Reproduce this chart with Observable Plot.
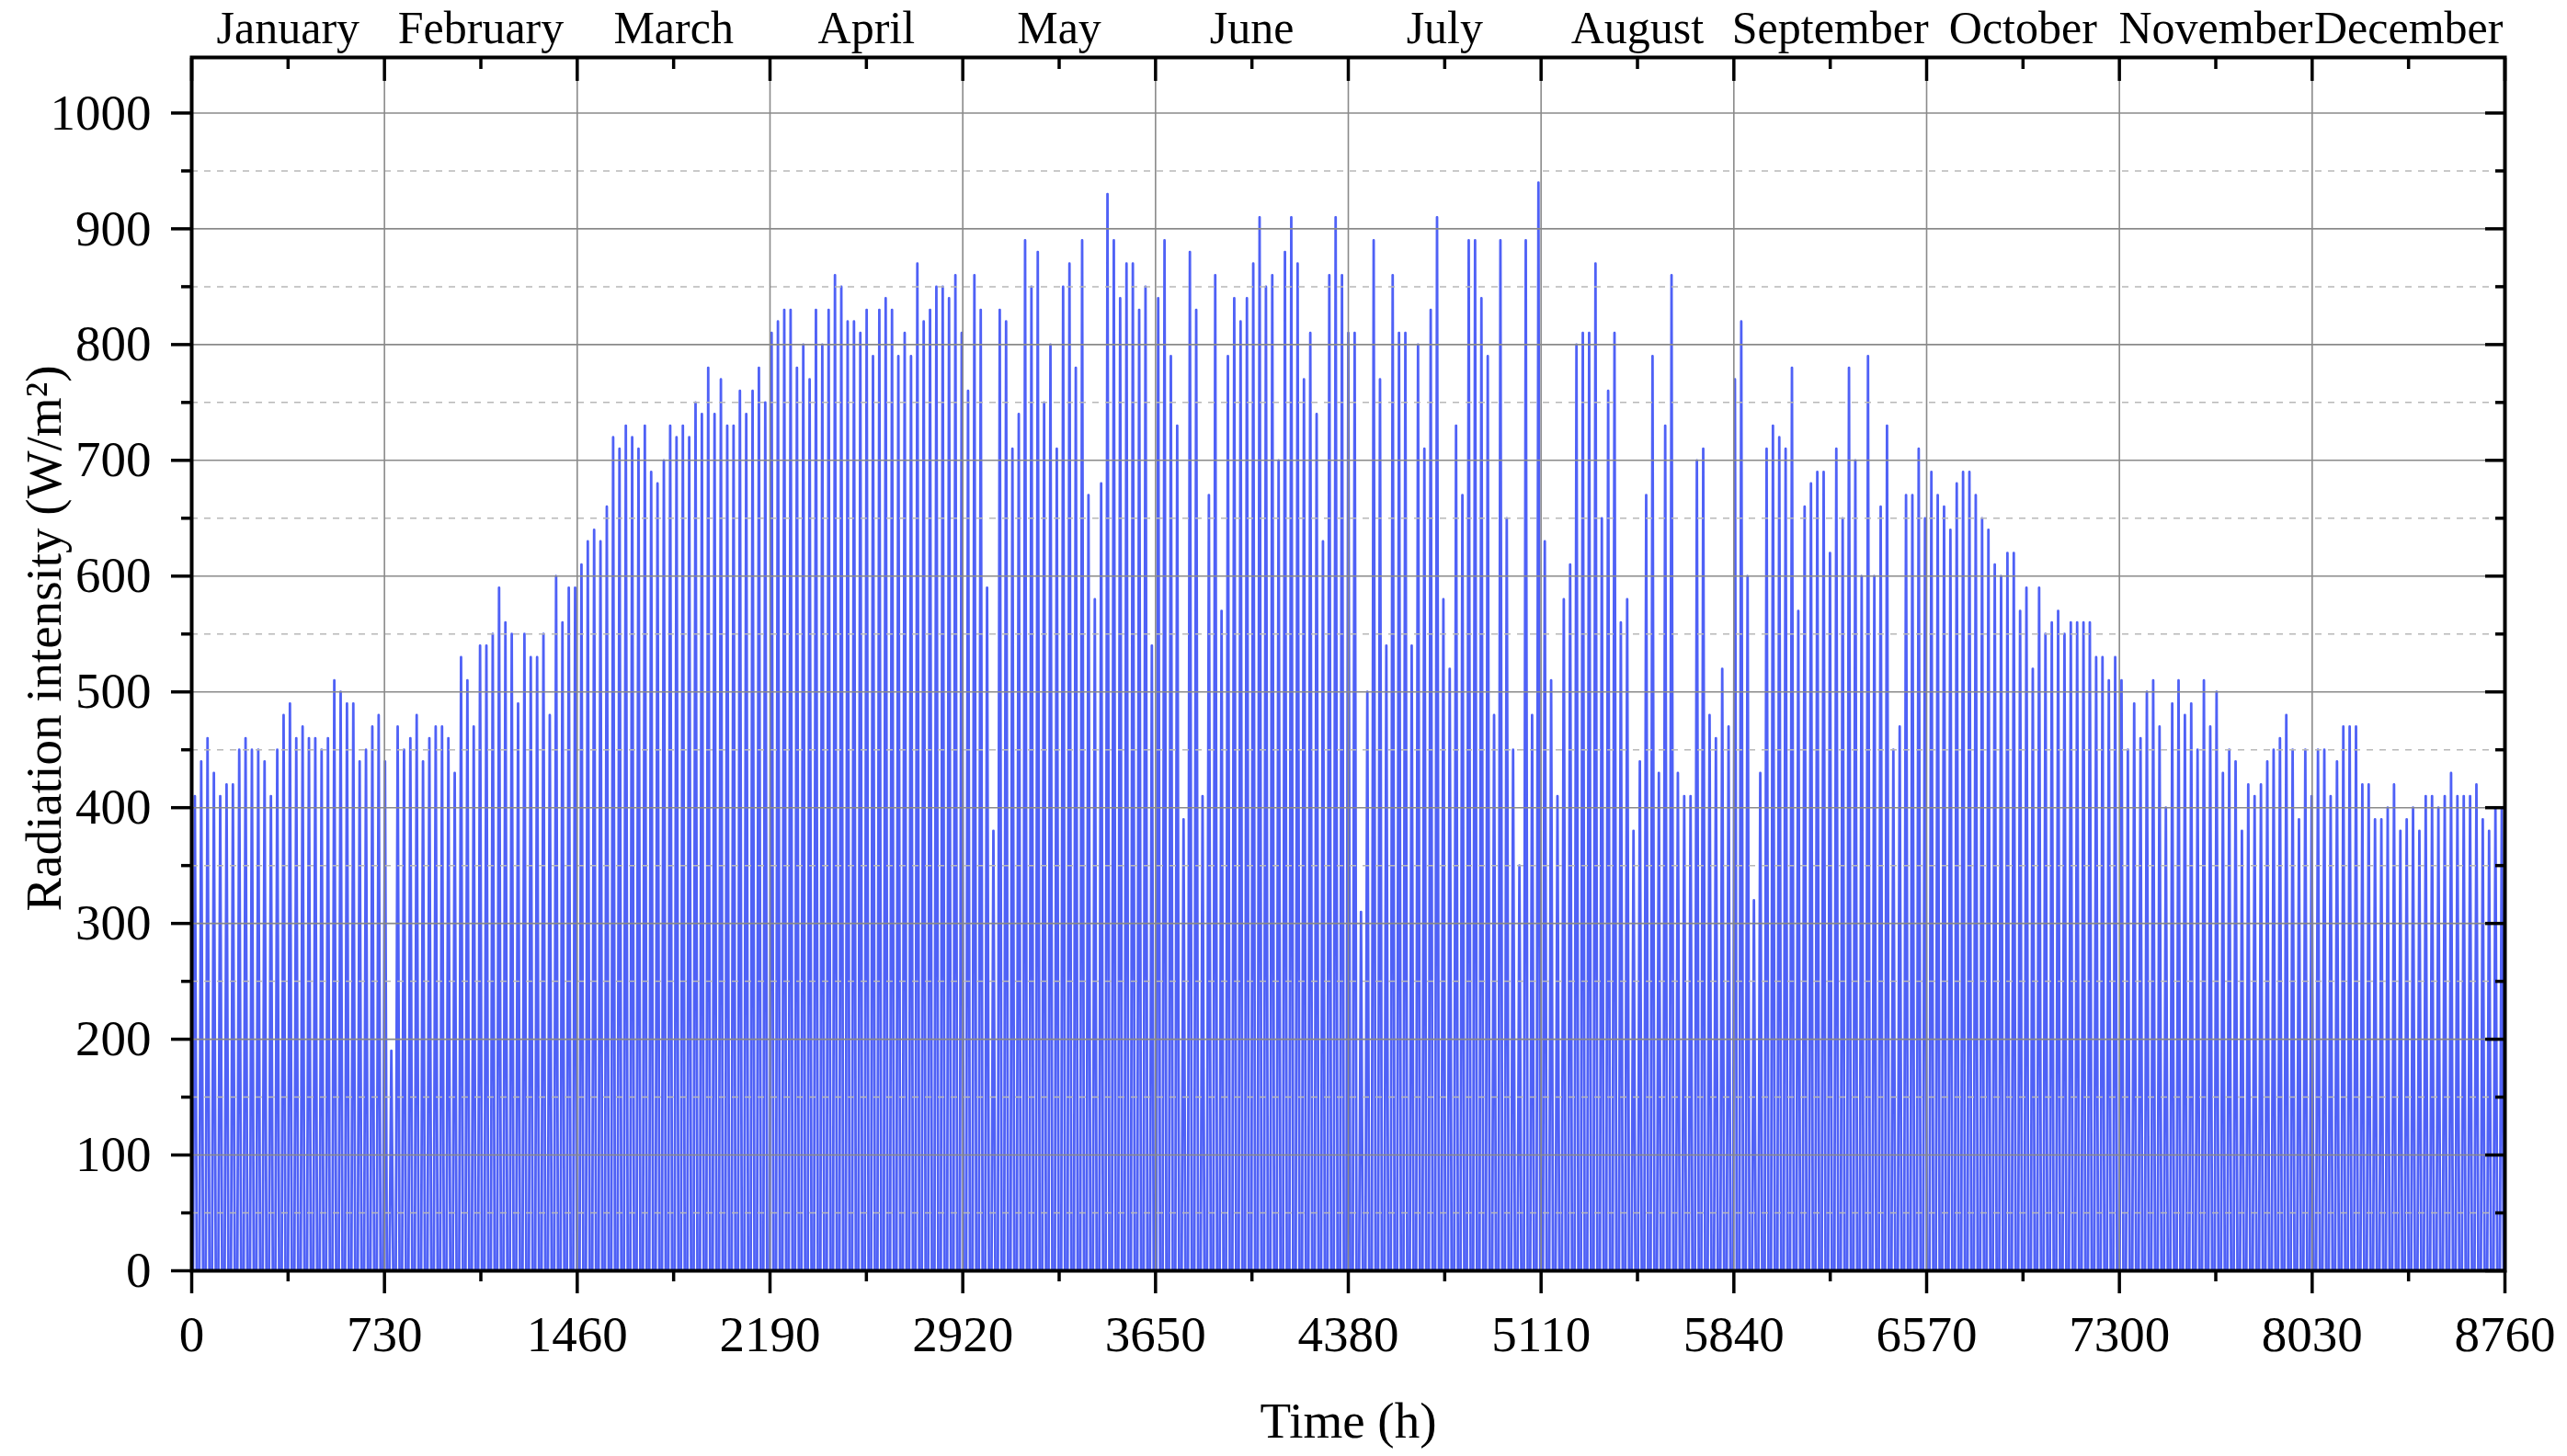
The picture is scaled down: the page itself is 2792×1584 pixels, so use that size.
<!DOCTYPE html>
<html>
<head>
<meta charset="utf-8">
<script src="https://cdn.jsdelivr.net/npm/d3@7"></script>
<script src="https://cdn.jsdelivr.net/npm/@observablehq/plot@0.6"></script>
<style>
  html, body { margin: 0; padding: 0; background: #fff; }
  #chart svg { display: block; }
</style>
</head>
<body>
<div id="chart"></div>
<script>
// Month names shown along the top axis
const monthNames = ["January","February","March","April","May","June","July","August","September","October","November","December"];
// Month label positions (hours, mid-month on a 730 h grid)
const monthMid = [365, 1095, 1825, 2555, 3285, 4015, 4745, 5475, 6205, 6935, 7665, 8395];
// Axis ticks
const xMajor = [0, 730, 1460, 2190, 2920, 3650, 4380, 5110, 5840, 6570, 7300, 8030, 8760];
const xMinor = [365, 1095, 1825, 2555, 3285, 4015, 4745, 5475, 6205, 6935, 7665, 8395];
const yMajor = [0, 100, 200, 300, 400, 500, 600, 700, 800, 900, 1000];
const yMinor = [50, 150, 250, 350, 450, 550, 650, 750, 850, 950];
// Daily peak radiation intensity (W/m²), day 1 .. day 365
const dailyPeak = [
  // January
  410,440,460,430,410,420,420,450,460,450,450,440,410,450,480,490,460,470,460,460,450,460,510,500,490,490,440,450,470,480,440,
  // February
  190,470,450,460,480,440,460,470,470,460,430,530,510,470,540,540,550,590,560,550,490,550,530,530,550,480,600,560,
  // March
  590,590,610,630,640,630,660,720,710,730,720,710,730,690,680,700,730,720,730,720,750,740,780,740,770,730,730,760,740,760,780,
  // April
  750,810,820,830,830,780,800,770,830,800,830,860,850,820,820,810,830,790,830,840,830,790,810,790,870,820,830,850,850,840,
  // May
  860,810,760,860,830,590,380,830,820,710,740,890,850,880,750,800,710,850,870,780,890,670,580,680,930,890,840,870,870,830,850,
  // June
  540,840,890,790,730,390,880,830,410,670,860,570,790,840,820,840,870,910,850,860,700,880,910,870,770,810,740,630,860,910,
  // July
  860,810,810,310,500,890,770,540,860,810,810,540,800,710,830,910,580,520,730,670,890,890,840,790,480,890,650,450,350,890,480,
  // August
  940,630,510,410,580,610,800,810,810,870,650,760,810,560,580,380,440,670,790,430,730,860,430,410,410,700,710,480,460,520,470,
  // September
  770,820,600,320,430,710,730,720,710,780,570,660,680,690,690,620,710,650,780,700,600,790,600,660,730,450,470,670,670,710,
  // October
  650,690,670,660,640,680,690,690,670,650,640,610,600,620,620,570,590,520,590,550,560,570,550,560,560,560,560,530,530,510,530,
  // November
  510,450,490,460,500,510,470,400,490,510,480,490,450,510,470,500,430,450,440,380,420,410,420,440,450,460,480,450,390,450,
  // December
  410,450,450,410,440,470,470,470,420,420,390,390,400,420,380,390,400,380,410,410,400,410,430,410,410,410,420,390,380,400,400
];

// Build the hourly trace: night hours at zero, peak at solar noon
const trace = [];
dailyPeak.forEach((peak, d) => {
  trace.push({hour: d * 24 + 5, value: 0});
  trace.push({hour: d * 24 + 12, value: peak});
  trace.push({hour: d * 24 + 19, value: 0});
});

const serif = "'Liberation Serif', 'Times New Roman', Times, serif";
const tickW = 3.5;

const chart = Plot.plot({
  width: 2792,
  height: 1584,
  marginLeft: 208,
  marginRight: 68,
  marginTop: 62,
  marginBottom: 202,
  style: {fontFamily: serif, fontSize: "55px", color: "#000", background: "#fff", overflow: "visible"},
  x: {domain: [0, 8760]},
  y: {domain: [0, 1048]},
  marks: [
    Plot.line(trace, {x: "hour", y: "value", stroke: "#4f61f6", strokeWidth: 2.8, curve: "linear"}),
    Plot.gridY({ticks: yMinor, stroke: "#b8b8b8", strokeOpacity: 1, strokeWidth: 1.5, strokeDasharray: "7,7"}),
    Plot.gridY({ticks: yMajor, stroke: "#8a8a8a", strokeOpacity: 1, strokeWidth: 1.6}),
    Plot.gridX({ticks: xMajor, stroke: "#8a8a8a", strokeOpacity: 1, strokeWidth: 1.6}),
    Plot.frame({stroke: "#000", strokeWidth: 4}),
    // left axis
    Plot.axisY({anchor: "left", ticks: yMajor, tickSize: 22, tickPadding: 22, strokeWidth: tickW, label: null, fontSize: 55, tickFormat: d => String(d)}),
    Plot.axisY({anchor: "left", ticks: yMinor, tickSize: 11, tickFormat: () => "", strokeWidth: tickW, label: null}),
    // right axis (inward ticks)
    Plot.axisY({anchor: "right", ticks: yMajor, tickSize: -22, tickFormat: () => "", strokeWidth: tickW, label: null}),
    Plot.axisY({anchor: "right", ticks: yMinor, tickSize: -11, tickFormat: () => "", strokeWidth: tickW, label: null}),
    // bottom axis
    Plot.axisX({anchor: "bottom", ticks: xMajor, tickSize: 25, tickPadding: 23, strokeWidth: tickW, label: null, fontSize: 55, tickFormat: d => String(d)}),
    Plot.axisX({anchor: "bottom", ticks: xMinor, tickSize: 12, tickFormat: () => "", strokeWidth: tickW, label: null}),
    // top axis (inward ticks)
    Plot.axisX({anchor: "top", ticks: xMajor, tickSize: -25, tickFormat: () => "", strokeWidth: tickW, label: null}),
    Plot.axisX({anchor: "top", ticks: xMinor, tickSize: -12, tickFormat: () => "", strokeWidth: tickW, label: null}),
    // month labels above the frame
    Plot.text(monthNames, {x: (d, i) => monthMid[i], text: d => d, frameAnchor: "top", dy: -32, lineAnchor: "middle", textAnchor: "middle", fontSize: 50, fill: "#000"}),
    // axis titles
    Plot.text(["Time (h)"], {text: d => d, frameAnchor: "bottom", dy: 164, lineAnchor: "middle", textAnchor: "middle", fontSize: 55, fill: "#000"}),
    Plot.text(["Radiation intensity (W/m²)"], {text: d => d, frameAnchor: "left", dx: -160, dy: -28, rotate: -90, lineAnchor: "middle", textAnchor: "middle", fontSize: 55, fill: "#000"})
  ]
});
document.getElementById("chart").appendChild(chart);
</script>
</body>
</html>
